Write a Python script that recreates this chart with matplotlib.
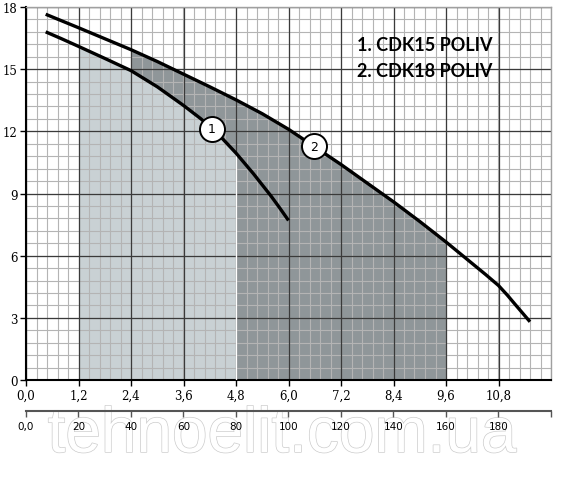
import numpy as np
import matplotlib.pyplot as plt
import matplotlib.patheffects as pe

# pump curves, Q in m3/h, H in m
q1 = [0.45, 0.8, 1.2, 1.8, 2.4, 3.0, 3.6, 4.0, 4.4, 4.8, 5.2, 5.6, 5.8, 6.0]
h1 = [16.8, 16.48, 16.1, 15.52, 14.93, 14.15, 13.25, 12.6, 11.85, 10.95, 9.95, 8.88, 8.3, 7.7]
q2 = [0.45, 1.2, 1.8, 2.4, 3.0, 3.6, 4.2, 4.8, 5.4, 6.0, 6.6, 7.2, 7.8, 8.4, 9.0,
      9.6, 10.2, 10.5, 10.8, 11.0, 11.2, 11.52]
h2 = [17.65, 17.0, 16.47, 15.94, 15.37, 14.76, 14.15, 13.52, 12.85, 12.1, 11.25,
      10.4, 9.5, 8.6, 7.65, 6.66, 5.62, 5.1, 4.56, 4.1, 3.6, 2.81]

# working ranges
range1 = (1.2, 4.8)
range2 = (2.4, 9.6)

labels_pos = [(4.24, 12.12), (6.58, 11.28)]
legend_lines = ["1. CDK15 POLIV", "2. CDK18 POLIV"]

xticks = [0.0, 1.2, 2.4, 3.6, 4.8, 6.0, 7.2, 8.4, 9.6, 10.8]
yticks = [0, 3, 6, 9, 12, 15, 18]
lmin_ticks = [0, 20, 40, 60, 80, 100, 120, 140, 160, 180, 200]

fig = plt.figure(figsize=(5.69, 5.02), dpi=100)
ax = fig.add_axes([26/569, 121/502, 525/569, 373/502])

ax.set_xlim(0, 12)
ax.set_ylim(0, 18)

# shaded ranges
xa = np.linspace(range1[0], range1[1], 100)
ax.fill_between(xa, 0, np.interp(xa, q1, h1), color='#c9d1d4', lw=0, zorder=1)
xb = np.linspace(range2[0], range1[1], 100)
ax.fill_between(xb, np.interp(xb, q1, h1), np.interp(xb, q2, h2), color='#8f9699', lw=0, zorder=1)
xc = np.linspace(range1[1], range2[1], 200)
ax.fill_between(xc, 0, np.interp(xc, q2, h2), color='#8f9699', lw=0, zorder=1)

# grid paper
ax.vlines(np.arange(0, 12.01, 0.24), 0, 18, color='#b4b4b4', lw=0.8, zorder=2)
ax.hlines(np.arange(0, 18.01, 0.6), 0, 12, color='#b4b4b4', lw=0.8, zorder=2)
ax.vlines(xticks, 0, 18, color='#3a3a3a', lw=0.9, zorder=2.5)
ax.hlines(yticks, 0, 12, color='#3a3a3a', lw=0.9, zorder=2.5)
ax.plot([range1[1], range1[1]], [0, np.interp(range1[1], q1, h1)], color='white',
        lw=1.0, zorder=2.6)

ax.plot(q1, h1, color='black', lw=2.4, zorder=4, solid_capstyle='butt')
ax.plot(q2, h2, color='black', lw=2.4, zorder=4, solid_capstyle='butt')

for i, (x, y) in enumerate(labels_pos):
    ax.plot(x, y, 'o', ms=18, mfc='white', mec='black', mew=1.4, zorder=5)
    ax.text(x, y, str(i + 1), ha='center', va='center', fontsize=9,
            family='DejaVu Sans', zorder=6)

for i, t in enumerate(legend_lines):
    ax.text(7.57, 16.21 - i * 1.28, t, ha='left', va='center', fontsize=13,
            fontweight='bold', family='Lato', zorder=6)

ax.set_xticks(xticks)
ax.set_yticks(yticks)
ax.set_xticklabels([f"{v:.1f}".replace('.', ',') for v in xticks],
                   family='DejaVu Serif', fontsize=8.5)
ax.set_yticklabels([str(v) for v in yticks], family='DejaVu Serif', fontsize=8.5)
ax.tick_params(which='major', length=4, width=1, color='black', pad=2)

for s in ['left', 'bottom']:
    ax.spines[s].set_color('black')
    ax.spines[s].set_linewidth(1.5)
for s in ['top', 'right']:
    ax.spines[s].set_color('#a0a0a0')
    ax.spines[s].set_linewidth(1)

# second scale, l/min
sec = ax.secondary_xaxis(-31/373, functions=(lambda x: x * 200 / 12, lambda v: v * 12 / 200))
sec.set_xticks(lmin_ticks)
sec.set_xticklabels(['0,0'] + [str(v) for v in lmin_ticks[1:-1]] + [''],
                    family='DejaVu Sans', fontsize=7.5)
sec.tick_params(length=4, width=1, color='#555555', pad=3)
sec.spines['bottom'].set_color('#555555')
sec.spines['bottom'].set_linewidth(1.5)
sec.xaxis.get_major_ticks()[8].tick1line.set_color('black')

# watermark
fig.text(282/569, 1 - 436/502, 'tehnoelit.com.ua', ha='center', va='center',
         fontsize=46, family='Liberation Sans', color='white', zorder=-1,
         path_effects=[pe.Stroke(linewidth=1.0, foreground='#cccccc'), pe.Normal()])

fig.savefig('out.png', dpi=100)
